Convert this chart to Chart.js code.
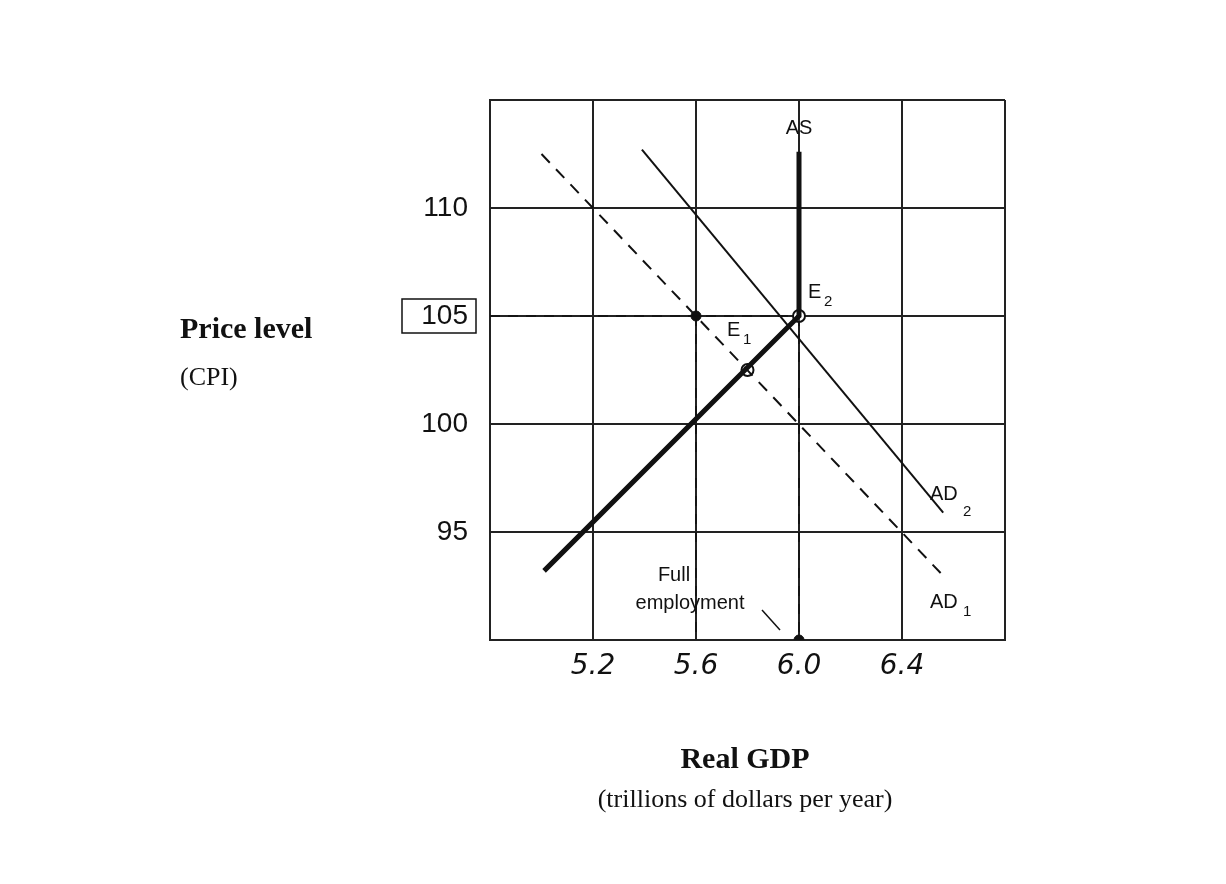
<!DOCTYPE html>
<html><head><meta charset="utf-8">
<script src="https://cdn.jsdelivr.net/npm/chart.js@4"></script>
<style>body{margin:0;background:#fff}canvas{display:block}</style>
</head><body>
<canvas id="c" width="1226" height="884"></canvas>
<script>
// ========================== DATA ==========================
const xTicks = [5.2, 5.6, 6.0, 6.4];
const xTickLabels = ["5.2", "5.6", "6.0", "6.4"];
const yTicks = [95, 100, 105, 110];
const asX = [5.01, 6.0, 6.0];
const asY = [93.2, 105, 112.6];
const ad1X = [5.0, 6.55];
const ad1Y = [112.5, 93.1];
const ad2X = [5.39, 6.56];
const ad2Y = [112.7, 95.9];
const guideX = [4.8, 6.0];
const guideY = [105, 105];

const pts = (xs, ys) => xs.map((x, i) => ({ x, y: ys[i] }));

// ========================== LABELS PLUGIN ==========================
const labels = {
  id: "labels",
  afterDraw(chart) {
    const { ctx, scales: { x, y } } = chart;
    ctx.save();
    ctx.fillStyle = "#111";
    ctx.font = "28px 'Liberation Sans'";
    ctx.textAlign = "right";
    ctx.textBaseline = "middle";
    yTicks.forEach(v => ctx.fillText(String(v), 468, y.getPixelForValue(v)));
    // box around 105
    ctx.strokeStyle = "#111";
    ctx.lineWidth = 1.5;
    ctx.strokeRect(402, y.getPixelForValue(105) - 17, 74, 34);
    ctx.font = "italic 28px 'DejaVu Sans'";
    ctx.textAlign = "center";
    xTicks.forEach((v, i) => ctx.fillText(xTickLabels[i], x.getPixelForValue(v), 667));

    ctx.font = "20px 'Liberation Sans'";
    ctx.fillText("AS", x.getPixelForValue(6.0), 128);
    ctx.textAlign = "left";
    ctx.fillText("E", 808, 292);
    ctx.fillText("E", 727, 330);
    ctx.fillText("AD", 930, 494);
    ctx.fillText("AD", 930, 602);
    ctx.font = "15px 'Liberation Sans'";
    ctx.fillText("2", 824, 302);
    ctx.fillText("1", 743, 340);
    ctx.fillText("2", 963, 512);
    ctx.fillText("1", 963, 612);
    ctx.font = "20px 'Liberation Sans'";
    ctx.textAlign = "center";
    ctx.fillText("Full", 674, 575);
    ctx.fillText("employment", 690, 603);
    ctx.beginPath();
    ctx.moveTo(762, 610); ctx.lineTo(780, 630); ctx.stroke();

    ctx.font = "bold 30px 'Liberation Serif'";
    ctx.textAlign = "left";
    ctx.fillText("Price level", 180, 330);
    ctx.font = "26px 'Liberation Serif'";
    ctx.fillText("(CPI)", 180, 378);
    ctx.textAlign = "center";
    ctx.font = "bold 30px 'Liberation Serif'";
    ctx.fillText("Real GDP", 745, 760);
    ctx.font = "26px 'Liberation Serif'";
    ctx.fillText("(trillions of dollars per year)", 745, 800);
    ctx.restore();
  }
};

// ========================== CHART ==========================
new Chart(document.getElementById("c"), {
  type: "scatter",
  data: {
    datasets: [
      { data: pts(asX, asY), showLine: true, borderColor: "#111", borderWidth: 5, pointRadius: 0 },
      { data: pts(ad1X, ad1Y), showLine: true, borderColor: "#111", borderWidth: 2, borderDash: [12, 9], pointRadius: 0 },
      { data: pts(ad2X, ad2Y), showLine: true, borderColor: "#111", borderWidth: 2, pointRadius: 0 },
      { data: pts(guideX, guideY), showLine: true, borderColor: "#111", borderWidth: 1.5, borderDash: [10, 8], pointRadius: 0 },
      { data: pts([5.6, 5.6], [105, 90]), showLine: true, borderColor: "#111", borderWidth: 1.5, borderDash: [10, 8], pointRadius: 0 },
      { data: pts([6.0, 6.0], [105, 90]), showLine: true, borderColor: "#111", borderWidth: 1.5, borderDash: [10, 8], pointRadius: 0 },
      { data: pts([5.6, 6.0], [105, 90]), pointRadius: 5, backgroundColor: "#111", borderColor: "#111" },
      { data: pts([6.0, 5.8], [105, 102.5]), pointRadius: 6, backgroundColor: "#fff", borderColor: "#111", borderWidth: 2 }
    ]
  },
  options: {
    responsive: false,
    animation: false,
    layout: { padding: { left: 490, right: 221, top: 100, bottom: 244 } },
    plugins: { legend: { display: false }, tooltip: { enabled: false } },
    scales: {
      x: {
        type: "linear", min: 4.8, max: 6.8,
        ticks: { display: false, stepSize: 0.4 },
        grid: { color: "#222", lineWidth: 2, drawTicks: false },
        border: { color: "#222", width: 2 }
      },
      y: {
        min: 90, max: 115,
        ticks: { display: false, stepSize: 5 },
        grid: { color: "#222", lineWidth: 2, drawTicks: false },
        border: { color: "#222", width: 2 }
      }
    }
  },
  plugins: [labels]
});
</script>
</body></html>
